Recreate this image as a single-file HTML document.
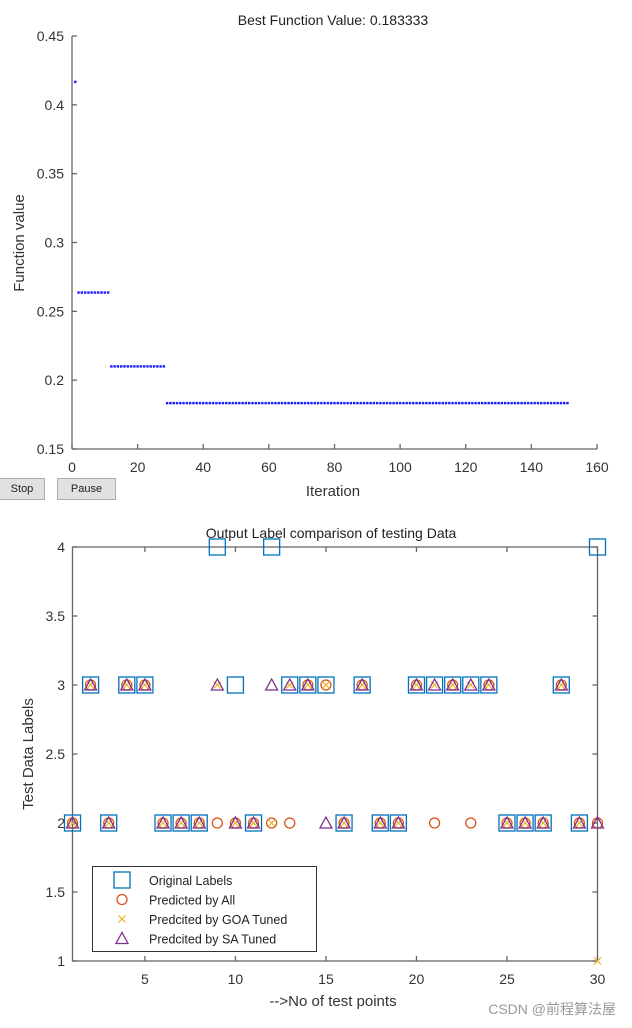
<!DOCTYPE html>
<html><head><meta charset="utf-8">
<style>
html,body{margin:0;padding:0;background:#fff;}
body{width:632px;height:1028px;position:relative;overflow:hidden;font-family:"Liberation Sans",sans-serif;}
.btn{position:absolute;height:20px;background:#e1e1e1;border:1px solid #adadad;font-size:11px;line-height:20px;text-align:center;color:#222;}
</style></head><body>
<svg id="chart" width="632" height="1028" style="position:absolute;left:0;top:0"></svg>
<div class="btn" style="left:-1px;top:478px;width:44px">Stop</div>
<div class="btn" style="left:57px;top:478px;width:57px">Pause</div>
<script>
// Top chart data: step changes of best value over iterations
const stepStarts = [1, 2, 12, 29];
const stepValues = [0.416667, 0.263636, 0.21, 0.183333];
const lastIter = 151;
const topXTicks = [0,20,40,60,80,100,120,140,160];
const topYTicks = [0.15,0.2,0.25,0.3,0.35,0.4,0.45];
const topYTickLabels = ["0.15","0.2","0.25","0.3","0.35","0.4","0.45"];

// Bottom chart data
const testPoints = [1,2,3,4,5,6,7,8,9,10,11,12,13,14,15,16,17,18,19,20,21,22,23,24,25,26,27,28,29,30];
const originalLabels = [2,3,2,3,3,2,2,2,4,3,2,4,3,3,3,2,3,2,2,3,3,3,3,3,2,2,2,3,2,4];
const predAll = [2,3,2,3,3,2,2,2,2,2,2,2,2,3,3,2,3,2,2,3,2,3,2,3,2,2,2,3,2,2];
const predGOA = [2,3,2,3,3,2,2,2,3,2,2,2,3,3,3,2,3,2,2,3,3,3,3,3,2,2,2,3,2,1];
const predSA = [2,3,2,3,3,2,2,2,3,2,2,3,3,3,2,2,3,2,2,3,3,3,3,3,2,2,2,3,2,2];
const botXTicks = [5,10,15,20,25,30];
const botYTicks = [1,1.5,2,2.5,3,3.5,4];
const botYTickLabels = ["1","1.5","2","2.5","3","3.5","4"];

const NS="http://www.w3.org/2000/svg";
const svg=document.getElementById('chart');
function el(tag,attrs,parent){const e=document.createElementNS(NS,tag);for(const k in attrs)e.setAttribute(k,attrs[k]);(parent||svg).appendChild(e);return e;}
function txt(s,attrs,parent){const e=el('text',attrs,parent);e.textContent=s;return e;}

// ===== Top chart =====
const tx=v=>72+(v-0)*(597-72)/160;
const ty=v=>449-(v-0.15)*(449-36)/0.30;
const gTop=el('g',{});


txt("Best Function Value: 0.183333",{x:333,y:25,'text-anchor':'middle','font-size':14,fill:'#222'},gTop);
const tAx=el('g',{stroke:'#666','stroke-width':1.3,fill:'none'},gTop);

el('line',{x1:72,y1:36,x2:72,y2:449},tAx);
el('line',{x1:72,y1:449,x2:597,y2:449},tAx);
topXTicks.forEach(t=>{
  el('line',{x1:tx(t),y1:449,x2:tx(t),y2:444},tAx);
  const l=txt(String(t),{x:tx(t),y:472,'text-anchor':'middle','font-size':14,fill:'#333'},gTop);
  
});
topYTicks.forEach((t,i)=>{
  el('line',{x1:72,y1:ty(t),x2:77,y2:ty(t)},tAx);
  const l=txt(topYTickLabels[i],{x:64,y:ty(t)+5,'text-anchor':'end','font-size':14,fill:'#333'},gTop);
  
});
const yl=txt("Function value",{x:0,y:0,'text-anchor':'middle','font-size':15,fill:'#333',transform:'translate(24,243) rotate(-90)'},gTop);

const xl=txt("Iteration",{x:333,y:496,'text-anchor':'middle','font-size':15,fill:'#333'},gTop);

const pts=el('g',{fill:'#1a1aff'},gTop);

for(let s=0;s<stepStarts.length;s++){
  const end=s+1<stepStarts.length?stepStarts[s+1]-1:lastIter;
  for(let it=stepStarts[s];it<=end;it++){
    const d=el('rect',{x:tx(it)-1.2,y:ty(stepValues[s])-1.2,width:2.4,height:2.4},pts);
    
  }
}

// ===== Bottom chart =====
const bx=v=>72.5+(v-1)*(597.5-72.5)/29;
const by=v=>961-(v-1)*(961-547)/3;
const gB=el('g',{});


txt("Output Label comparison of testing Data",{x:331,y:538,'text-anchor':'middle','font-size':14,fill:'#222'},gB);
const bAx=el('g',{stroke:'#666','stroke-width':1.3,fill:'none'},gB);

el('rect',{x:72.5,y:547,width:525,height:414},bAx);
botXTicks.forEach(t=>{
  el('line',{x1:bx(t),y1:961,x2:bx(t),y2:956},bAx);
  el('line',{x1:bx(t),y1:547,x2:bx(t),y2:552},bAx);
  const l=txt(String(t),{x:bx(t),y:984,'text-anchor':'middle','font-size':14,fill:'#333'},gB);
  
});
botYTicks.forEach((t,i)=>{
  el('line',{x1:72.5,y1:by(t),x2:77.5,y2:by(t)},bAx);
  el('line',{x1:597.5,y1:by(t),x2:592.5,y2:by(t)},bAx);
  const l=txt(botYTickLabels[i],{x:65,y:by(t)+5,'text-anchor':'end','font-size':14,fill:'#333'},gB);
  
});
const yl2=txt("Test Data Labels",{x:0,y:0,'text-anchor':'middle','font-size':15,fill:'#333',transform:'translate(33,754) rotate(-90)'},gB);

const xl2=txt("-->No of test points",{x:333,y:1006,'text-anchor':'middle','font-size':15,fill:'#333'},gB);


function square(x,y,p){const e=el('rect',{x:x-8,y:y-8,width:16,height:16,fill:'none',stroke:'#0072BD','stroke-width':1.3},p);return e;}
function circle(x,y,p){return el('circle',{cx:x,cy:y,r:5,fill:'none',stroke:'#D95319','stroke-width':1.3},p);}
function cross(x,y,p){const g=el('g',{stroke:'#EDB120','stroke-width':1.2},p);el('line',{x1:x-3.5,y1:y-3.5,x2:x+3.5,y2:y+3.5},g);el('line',{x1:x-3.5,y1:y+3.5,x2:x+3.5,y2:y-3.5},g);return g;}
function tri(x,y,p){return el('polygon',{points:`${x},${y-6} ${x-6},${y+5} ${x+6},${y+5}`,fill:'none',stroke:'#7E2F8E','stroke-width':1.3},p);}

const sOrig=el('g',{},gB);
const sAll=el('g',{},gB);
const sGOA=el('g',{},gB);
const sSA=el('g',{},gB);
testPoints.forEach((p,i)=>{
  const m1=square(bx(p),by(originalLabels[i]),sOrig);
  
  const m2=circle(bx(p),by(predAll[i]),sAll);
  
  const m3=cross(bx(p),by(predGOA[i]),sGOA);
  
  const m4=tri(bx(p),by(predSA[i]),sSA);
  
});

// Legend
const lg=el('g',{},gB);


el('rect',{x:92.5,y:866.5,width:224,height:85,fill:'#fff',stroke:'#333','stroke-width':1},lg);
const entries=[["Original Labels",square],["Predicted by All",circle],["Predcited by GOA Tuned",cross],["Predcited by SA Tuned",tri]];
entries.forEach((e,i)=>{
  const y=880+i*19.5;
  const g=el('g',{},lg);
  
  e[1](122,y,g);
  txt(e[0],{x:149,y:y+5,'font-size':12.5,fill:'#222'},g);
});

// Watermark
const wm=txt("CSDN @前程算法屋",{x:616,y:1014,'text-anchor':'end','font-size':14,fill:'#999','font-family':'"Liberation Sans","Noto Sans CJK SC",sans-serif'});


</script>
</body></html>
